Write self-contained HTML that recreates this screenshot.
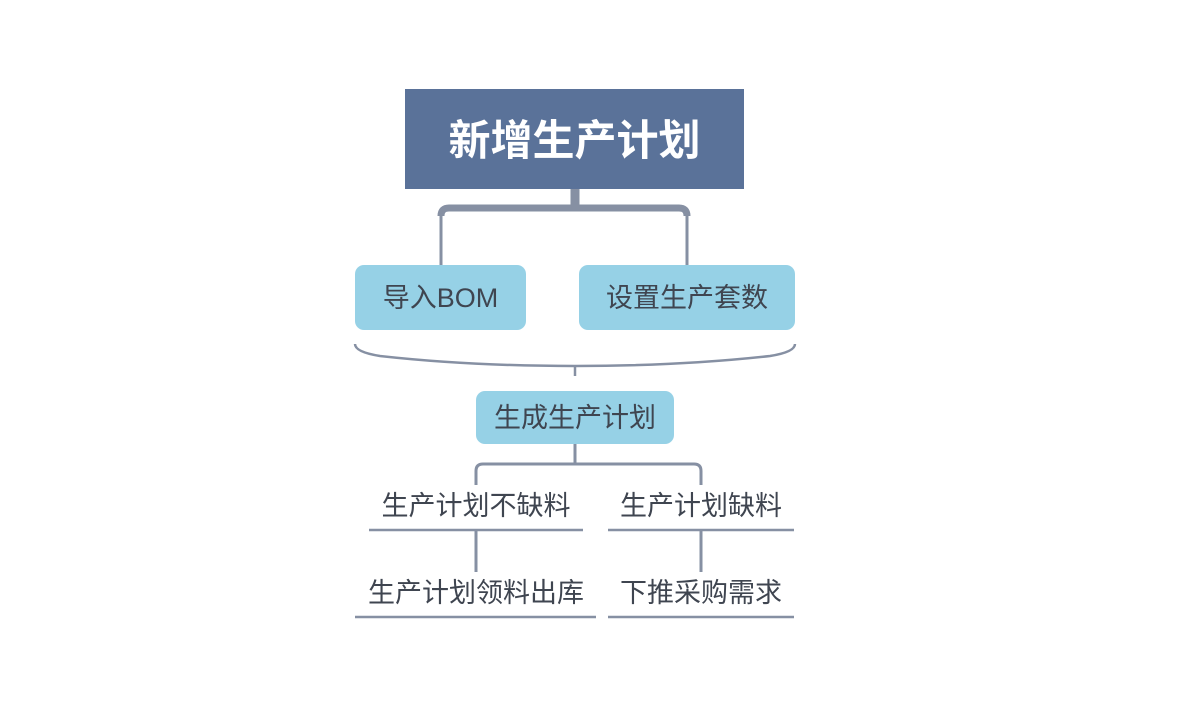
<!DOCTYPE html>
<html><head><meta charset="utf-8"><style>
html,body{margin:0;padding:0;background:#fff;width:1204px;height:701px;overflow:hidden}
svg{display:block}
text{font-family:"Liberation Sans","Noto Sans CJK SC",sans-serif;fill:#3f4550}
</style></head><body>
<svg width="1204" height="701" viewBox="0 0 1204 701">
<rect x="405" y="89" width="339" height="100" fill="#5a7299"/>
<text x="574.5" y="155" font-size="42" font-weight="bold" text-anchor="middle" style="fill:#fff">新增生产计划</text>
<g fill="none" stroke="#8690a3">
<path d="M575 189 V206" stroke-width="9"/>
<path d="M441 265 V215 Q441 208 448 208 H680 Q687 208 687 215 V265" stroke-width="3"/>
<path d="M441 216 Q441 208 449 208 H679 Q687 208 687 216" stroke-width="7"/>
<path d="M355 344 Q355 352 380 356 Q470 366 575 366 Q680 366 770 356 Q795 352 795 344" stroke-width="2.5"/>
<path d="M575 366 V376" stroke-width="2.5"/>
<path d="M575 444 V464" stroke-width="3"/>
<path d="M476 485 V471 Q476 464 483 464 H694 Q701 464 701 471 V485" stroke-width="3"/>
<path d="M369 530 H583 M608 530 H794 M355 617 H596 M608 617 H794" stroke-width="2.5"/>
<path d="M476 530 V572 M701 530 V572" stroke-width="3"/>
</g>
<rect x="355" y="265" width="171" height="65" rx="9" fill="#96d1e6"/>
<rect x="579" y="265" width="216" height="65" rx="9" fill="#96d1e6"/>
<rect x="476" y="391" width="198" height="53" rx="9" fill="#96d1e6"/>
<g font-size="27" text-anchor="middle">
<text x="440.5" y="307">导入BOM</text>
<text x="687" y="307">设置生产套数</text>
<text x="575" y="427">生成生产计划</text>
<text x="476" y="515">生产计划不缺料</text>
<text x="701" y="515">生产计划缺料</text>
<text x="476" y="602">生产计划领料出库</text>
<text x="701" y="602">下推采购需求</text>
</g>
</svg>
</body></html>
